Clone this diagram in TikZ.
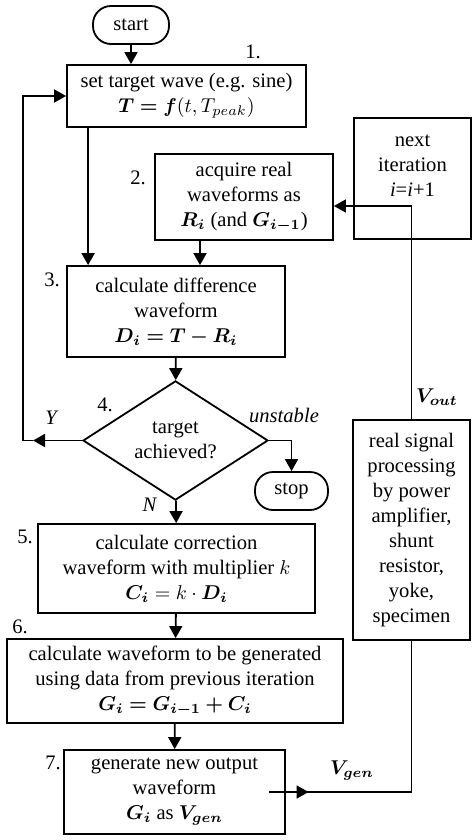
\documentclass[tikz,border=0pt]{standalone}
\usepackage{amsmath}
\usepackage{bm}
\usepackage{fontspec}
\setmainfont{Liberation Serif}
\usepackage{tikz}
\usetikzlibrary{arrows.meta}
\usetikzlibrary{shapes.geometric}
\usetikzlibrary{decorations.markings}
\tikzset{box/.style = {draw, rectangle, align = center, inner sep = 1pt, line width = 0.9pt}}
\tikzset{term/.style = {draw, rectangle, rounded corners = 9pt, align = center, inner sep = 1pt, line width = 0.9pt}}
\tikzset{decide/.style = {draw, diamond, align = center, inner sep = 0, line width = 0.9pt}}
\tikzset{arr/.style = {line width = 0.9pt, -{Triangle[length = 6pt, width = 6.5pt]}}}
\tikzset{wire/.style = {line width = 0.9pt}}

\begin{document}
\begin{tikzpicture}[x = 0.5pt, y = -0.5pt, font = \fontsize{10.3}{12.5}\selectfont]
      \useasboundingbox (0, 0) rectangle (474, 840);

      \node [term, minimum width = 38pt, minimum height = 19pt] (start) at (131, 25) {start};
      \node [box, minimum width = 119.5pt, minimum height = 31pt] (b1) at (186.5, 96)
        {set target wave (e.g. sine)\\ $\bm{T = f}(t, T_{peak})$};
      \node [box, minimum width = 89pt, minimum height = 43pt] (b2) at (244, 197)
        {acquire real\\ waveforms as\\ $\bm{R_i}$ (and $\bm{G_{i-1}}$)};
      \node [box, minimum width = 109pt, minimum height = 45.5pt] (b3) at (176, 311.5)
        {calculate difference\\ waveform\\ $\bm{D_i = T - R_i}$};
      \node [decide, minimum width = 92.5pt, minimum height = 56.5pt] (d) at (175.5, 440.5)
        {target\\ achieved?};
      \node [term, minimum width = 36.5pt, minimum height = 19pt] (stop) at (291.5, 491) {stop};
      \node [box, minimum width = 138.5pt, minimum height = 44.5pt] (b5) at (176.5, 568.5)
        {calculate correction\\ waveform with multiplier $k$\\ $\bm{C_i} = k \cdot \bm{D_i}$};
      \node [box, minimum width = 168pt, minimum height = 42pt] (b6) at (175, 681)
        {calculate waveform to be generated\\ using data from previous iteration\\ $\bm{G_i = G_{i-1} + C_i}$};
      \node [box, minimum width = 110.5pt, minimum height = 42pt] (b7) at (174.5, 792)
        {generate new output\\ waveform\\ $\bm{G_i}$ as $\bm{V_{gen}}$};
      \node [box, minimum width = 58.5pt, minimum height = 60.5pt] (next) at (412.5, 178.5)
        {next\\ iteration\\ \textit{i}=\textit{i}+1\\ \mbox{}};
      \node [box, minimum width = 58.5pt, minimum height = 110pt] (sig) at (411.5, 530)
        {real signal\\ processing\\ by power\\ amplifier,\\ shunt\\ resistor,\\ yoke,\\ specimen};

      % step numbers and branch labels
      \node (n1) at (253, 52) {1.};
      \node (n2) at (138, 178) {2.};
      \node (n3) at (52, 280) {3.};
      \node (n4) at (105, 405) {4.};
      \node (n5) at (25, 537) {5.};
      \node (n6) at (20, 627) {6.};
      \node (n7) at (53, 763) {7.};
      \node (ly) at (52, 418) {\textit{Y}};
      \node (ln) at (150, 505) {\textit{N}};
      \node (lu) at (284, 415) {\textit{unstable}};
      \node (lout) at (437, 397) {$\bm{V_{out}}$};
      \node (lgen) at (352, 770) {$\bm{V_{gen}}$};

      \coordinate (yes) at (23, 440.5);

      \draw [arr] (start) -- (start |- b1.north);
      \draw [arr] ([xshift = 11pt]b1.south west) -- ([xshift = 11pt]b3.north west);
      \draw [arr] ([xshift = -22pt]b2.south) -- ([xshift = -22pt]b2.south |- b3.north);
      \draw [arr] (b3) -- (d);
      \draw [arr] (d) -- (b5);
      \draw [arr] (b5) -- (b6);
      \draw [arr] (b6) -- (b7);
      \draw [arr] (d.west) -- ([xshift = 5pt]yes);
      \draw [arr] ([xshift = 5pt]yes) -- (yes) |- (b1.west);
      \draw [arr] (d.east) -| (stop.north);
      \draw [arr] (sig.north) |- ([yshift = -4.5pt]b2.east);
      \draw [wire, decoration = {markings, mark = at position 0.135 with {\arrow{Triangle[length = 6pt, width = 6.5pt]}}}, postaction = {decorate}]
        ([xshift = -8.5pt]b7.east) -| (sig.south);
    \end{tikzpicture}
\end{document}
